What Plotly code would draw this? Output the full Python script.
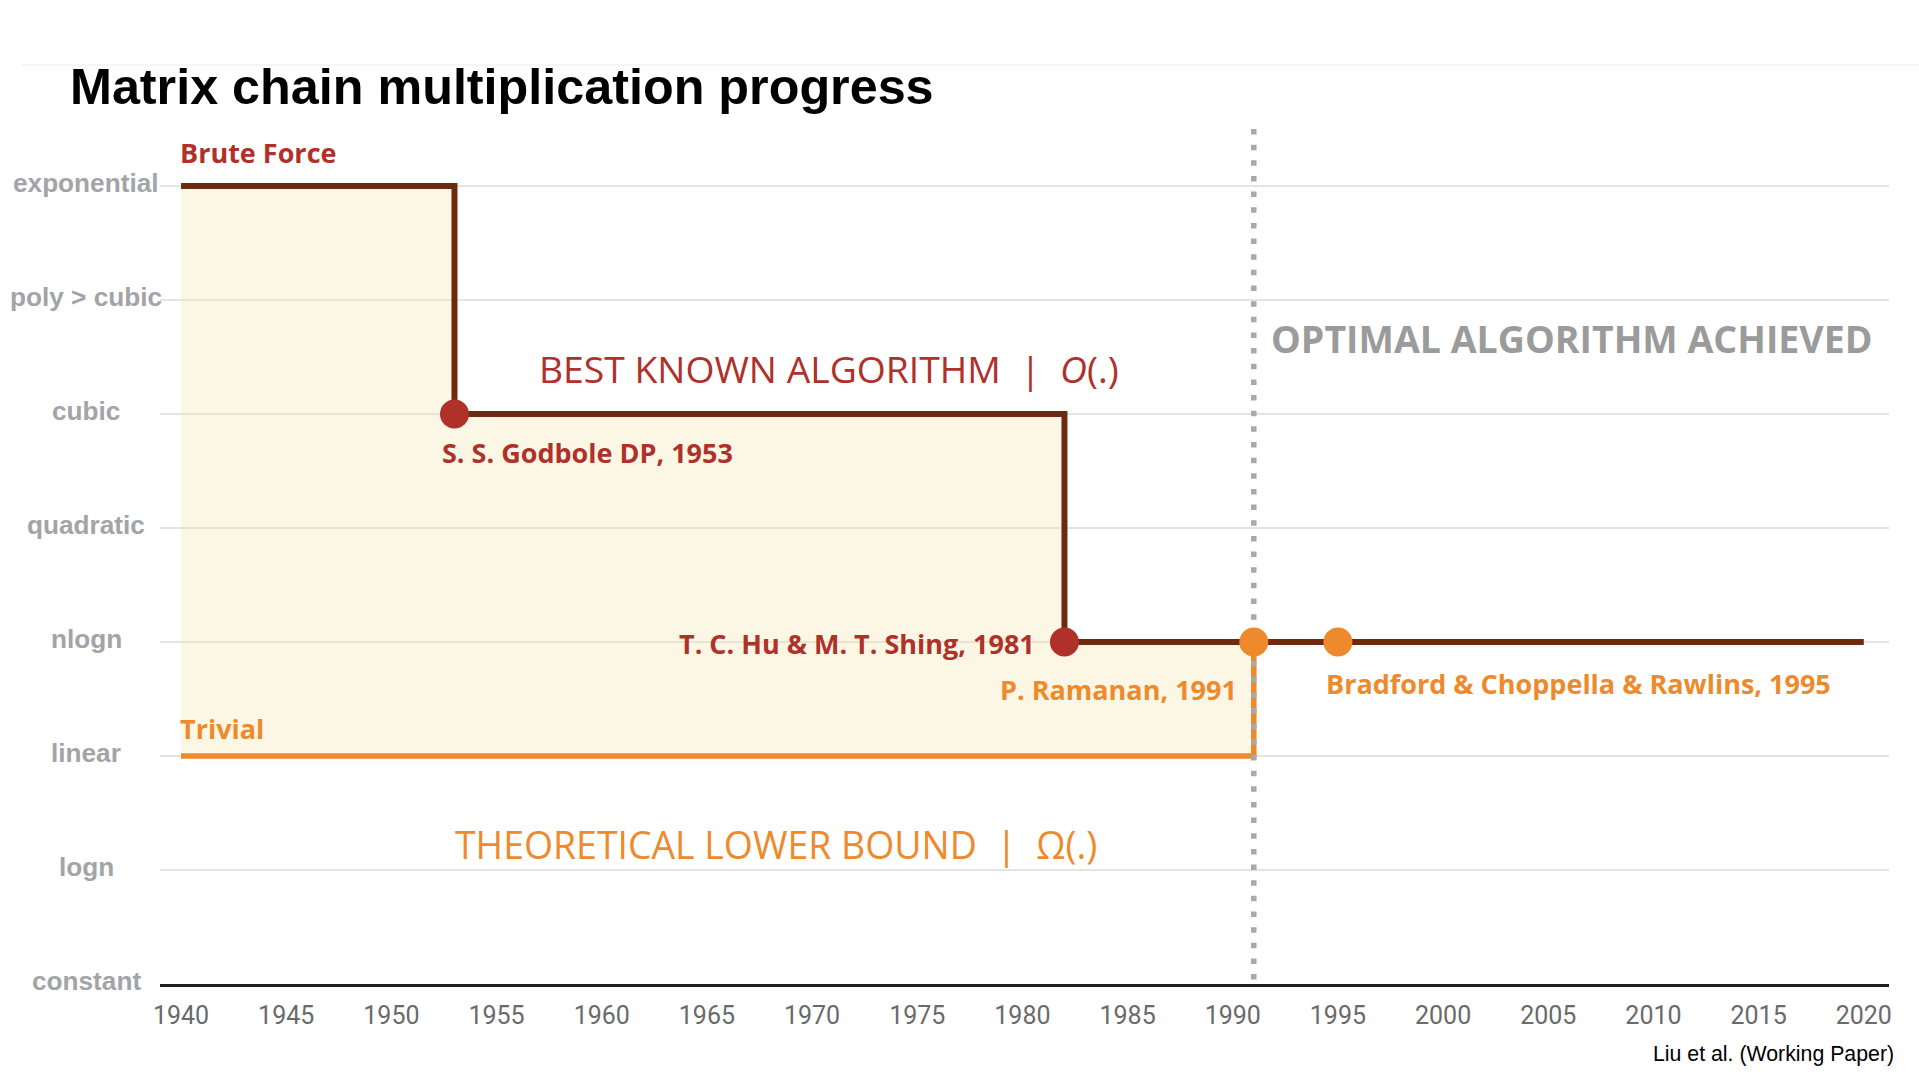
import plotly.graph_objects as go

# ---------------- data ----------------
levels = ["constant", "logn", "linear", "nlogn", "quadratic", "cubic", "poly > cubic", "exponential"]
x_ticks = [1940, 1945, 1950, 1955, 1960, 1965, 1970, 1975, 1980, 1985, 1990, 1995, 2000, 2005, 2010, 2015, 2020]

start_year = 1940
end_year = 2020
brute_force_level = "exponential"

alg_years = [1953, 1982, 1991, 1995]
alg_levels = ["cubic", "nlogn", "nlogn", "nlogn"]
alg_labels = ["S. S. Godbole DP, 1953", "T. C. Hu & M. T. Shing, 1981",
              "P. Ramanan, 1991", "Bradford & Choppella & Rawlins, 1995"]
alg_optimal = [False, False, True, True]

lower_bound_level = "linear"
optimal_year = 1991
optimal_level = "nlogn"

# ---------------- styling ----------------
BROWN = "#6E2A0E"
RED = "#B0302A"
ORANGE = "#EE8A2B"
GRID = "#E4E4E4"
YLAB = "#A3A4A7"
W, H = 1919, 1080
ML, MR, MT, MB = 160, 30, 129, 96
X0, X1 = 1939.0, 2021.2
Y0, Y1 = 0, 7.5

lv = {n: i for i, n in enumerate(levels)}

def px_to_paper_x(px):
    return (px - ML) / (W - ML - MR)

def px_to_paper_y(py):
    return (H - MB - py) / (H - MT - MB)

fig = go.Figure()

# step path of best known algorithm
step_x = [start_year] + alg_years + [end_year]
step_y = [lv[brute_force_level]] + [lv[l] for l in alg_levels] + [lv[alg_levels[-1]]]

# shaded gap region between best known and lower bound until optimal year
poly_x, poly_y = [step_x[0]], [step_y[0]]
for i in range(1, len(step_x)):
    xx = min(step_x[i], optimal_year)
    poly_x += [xx, xx]
    poly_y += [step_y[i - 1], step_y[i]]
    if step_x[i] >= optimal_year:
        break
poly_x += [optimal_year, start_year]
poly_y += [lv[lower_bound_level], lv[lower_bound_level]]
fig.add_trace(go.Scatter(x=poly_x, y=poly_y, fill="toself", mode="lines",
                         line=dict(width=0), fillcolor="rgba(246,230,165,0.30)",
                         hoverinfo="skip", showlegend=False))

# lower bound line
fig.add_trace(go.Scatter(x=[start_year, optimal_year, optimal_year],
                         y=[lv[lower_bound_level], lv[lower_bound_level], lv[optimal_level]],
                         mode="lines", line=dict(color=ORANGE, width=5.5),
                         showlegend=False, hoverinfo="skip"))

# best known algorithm line
fig.add_trace(go.Scatter(x=step_x, y=step_y, mode="lines", line_shape="hv",
                         line=dict(color=BROWN, width=6), showlegend=False, hoverinfo="skip"))

# optimal vertical dotted line (drawn top to bottom)
fig.add_trace(go.Scatter(x=[optimal_year, optimal_year], y=[Y1, 0.035], mode="lines",
                         line=dict(color="#A9A9A9", width=5.5, dash="5.5px,10.15px"),
                         showlegend=False, hoverinfo="skip"))

# markers
fig.add_trace(go.Scatter(x=alg_years, y=[lv[l] for l in alg_levels], mode="markers",
                         marker=dict(size=29, color=[ORANGE if o else RED for o in alg_optimal]),
                         showlegend=False, hoverinfo="skip"))

ann = []
LBL_FONT = "Open Sans, Noto Sans, sans-serif"
# point labels: (xanchor, xshift, yshift)
label_pos = [("left", -14, -38), ("right", -27, -1), ("right", -15, -47), ("left", -14, -41)]
for yr, l, t, o, (xa, xs, ys) in zip(alg_years, alg_levels, alg_labels, alg_optimal, label_pos):
    ann.append(dict(x=yr, y=lv[l], xref="x", yref="y", text=f"<b>{t}</b>", showarrow=False,
                    xanchor=xa, yanchor="middle", xshift=xs, yshift=ys,
                    font=dict(family=LBL_FONT, size=27, color=ORANGE if o else RED)))

ann.append(dict(x=start_year, y=lv[brute_force_level], text="<b>Brute Force</b>", showarrow=False,
                xanchor="left", yanchor="middle", xshift=-3, yshift=34,
                font=dict(family=LBL_FONT, size=27, color=RED)))
ann.append(dict(x=start_year, y=lv[lower_bound_level], text="<b>Trivial</b>", showarrow=False,
                xanchor="left", yanchor="middle", xshift=-3, yshift=28,
                font=dict(family=LBL_FONT, size=27, color=ORANGE)))

ann.append(dict(x=1970.8, y=5.40, text="BEST KNOWN ALGORITHM\u00a0\u00a0|\u00a0\u00a0<i>O</i>(.)",
                showarrow=False, xanchor="center", yanchor="middle",
                font=dict(family=LBL_FONT, size=37.3, color=RED)))
ann.append(dict(x=1968.3, y=1.22, text="THEORETICAL LOWER BOUND\u00a0\u00a0|\u00a0\u00a0Ω(.)",
                showarrow=False, xanchor="center", yanchor="middle",
                font=dict(family=LBL_FONT, size=37.4, color=ORANGE)))
ann.append(dict(x=2006.1, y=5.66, text="<b>OPTIMAL ALGORITHM ACHIEVED</b>",
                showarrow=False, xanchor="center", yanchor="middle",
                font=dict(family=LBL_FONT, size=37.5, color="#9B9B9B")))

# y labels (centered)
for name in levels:
    ann.append(dict(x=px_to_paper_x(86), xref="paper", y=lv[name], yref="y",
                    text=f"<b>{name}</b>", showarrow=False, xanchor="center", yanchor="middle",
                    yshift=3, font=dict(family="Liberation Sans, Arial, sans-serif", size=26.2, color=YLAB)))

# title
ann.append(dict(x=px_to_paper_x(68), y=px_to_paper_y(86), xref="paper", yref="paper",
                text="<b>Matrix chain multiplication progress</b>", showarrow=False,
                xanchor="left", yanchor="middle",
                font=dict(family="Liberation Sans, Arial, sans-serif", size=50.3, color="#000000")))
# source
ann.append(dict(x=px_to_paper_x(1896), y=px_to_paper_y(1054), xref="paper", yref="paper",
                text="Liu et al. (Working Paper)", showarrow=False, xanchor="right", yanchor="middle",
                font=dict(family="Liberation Sans, Arial, sans-serif", size=21.3, color="#000000")))

fig.update_layout(
    width=W, height=H,
    margin=dict(l=ML, r=MR, t=MT, b=MB, pad=0),
    paper_bgcolor="white", plot_bgcolor="white",
    annotations=ann,
    shapes=[dict(type="line", xref="paper", yref="paper",
                 x0=px_to_paper_x(22), x1=px_to_paper_x(1919),
                 y0=px_to_paper_y(65), y1=px_to_paper_y(65),
                 line=dict(color="#F2F2F2", width=1.5))],
    xaxis=dict(range=[X0, X1], tickvals=x_ticks, ticktext=[str(t) for t in x_ticks],
               showgrid=False, zeroline=False, showline=True, linecolor="#1E1E1E", linewidth=2.5,
               ticks="", ticklabelstandoff=7,
               tickfont=dict(family="Roboto, sans-serif", size=25, color="#6A6A6A")),
    yaxis=dict(range=[Y0, Y1], tickvals=list(range(len(levels))), showticklabels=False,
               showgrid=True, gridcolor=GRID, gridwidth=2, zeroline=False, showline=False, ticks=""),
)

fig.write_html("out.html")
